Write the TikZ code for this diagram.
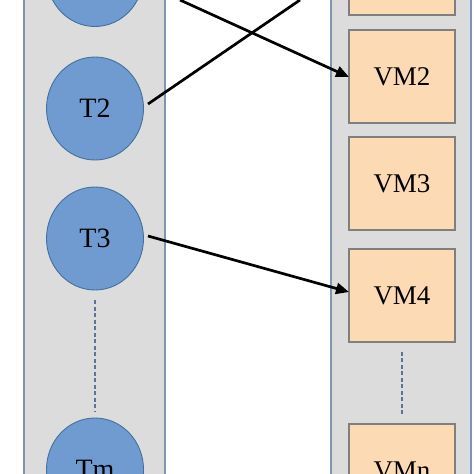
\documentclass[tikz,border=0pt]{standalone}
\usepackage{fontspec}
\setmainfont{Liberation Serif}
\usetikzlibrary{shapes.geometric,arrows.meta}
\definecolor{panelfill}{HTML}{DCDCDC}
\definecolor{paneledge}{HTML}{7F93B5}
\definecolor{taskfill}{HTML}{6F9BD1}
\definecolor{taskedge}{HTML}{41719C}
\definecolor{vmfill}{HTML}{FCDAB4}
\definecolor{vmedge}{HTML}{7F7F7F}
\definecolor{dotcol}{HTML}{5C7396}
\tikzset{
  panel/.style={fill=panelfill,draw=paneledge,line width=1.3pt},
  task/.style={ellipse,fill=taskfill,draw=taskedge,line width=0.9pt,minimum width=97pt,minimum height=103pt,inner sep=0pt,font=\fontsize{28}{30}\selectfont},
  vm/.style={rectangle,fill=vmfill,draw=vmedge,line width=1.2pt,minimum width=106pt,minimum height=93pt,inner sep=0pt,font=\fontsize{27}{30}\selectfont},
  vdots/.style={dotcol,dash pattern=on 4pt off 2.5pt,line width=1.8pt},
  link/.style={line width=2.7pt,black},
  arr/.style={link,-{Triangle[length=13pt,width=11pt]}}
}
\begin{document}
\begin{tikzpicture}[x=1pt,y=-1pt]
\useasboundingbox (0,0) rectangle (474,474);
\clip (0,0) rectangle (474,474);
\fill[white] (0,0) rectangle (474,474);
% panels
\draw[panel] (24,-20) rectangle (165,500);
\draw[panel] (331,-20) rectangle (471,500);
% tasks
\node[task] (t1) at (95,-25) {};
\node[task] (t2) at (95,108.5) {T2};
\node[task] (t3) at (95,238.5) {T3};
\node[task] (tm) at (95,469.5) {Tm};
% vms
\node[vm] (vm1) at (402,-31.5) {};
\node[vm] (vm2) at (402,76.5) {VM2};
\node[vm] (vm3) at (402,183.5) {VM3};
\node[vm] (vm4) at (402,295.5) {VM4};
\node[vm] (vmn) at (402,470.5) {VMn};
% dotted continuation
\draw[vdots] ([yshift=-10pt]t3.south) -- ([yshift=6pt]tm.north);
\draw[vdots] ([yshift=-9pt]vm4.south) -- ([yshift=8pt]vmn.north);
% connectors
\coordinate (a1) at (180,0);
\coordinate (a2) at (300,0);
\coordinate (t2e) at (148,104);
\coordinate (t3e) at (148,236);
\coordinate (tme) at (148,530);
\coordinate (vm2w) at (349,77);
\coordinate (vm4w) at (349,292);
\coordinate (vmnw) at (349,477);
\draw[arr] (a1) -- (vm2w);
\draw[link] (t2e) -- (a2);
\draw[arr] (t3e) -- (vm4w);
\draw[arr] (tme) -- (vmnw);
\end{tikzpicture}
\end{document}
